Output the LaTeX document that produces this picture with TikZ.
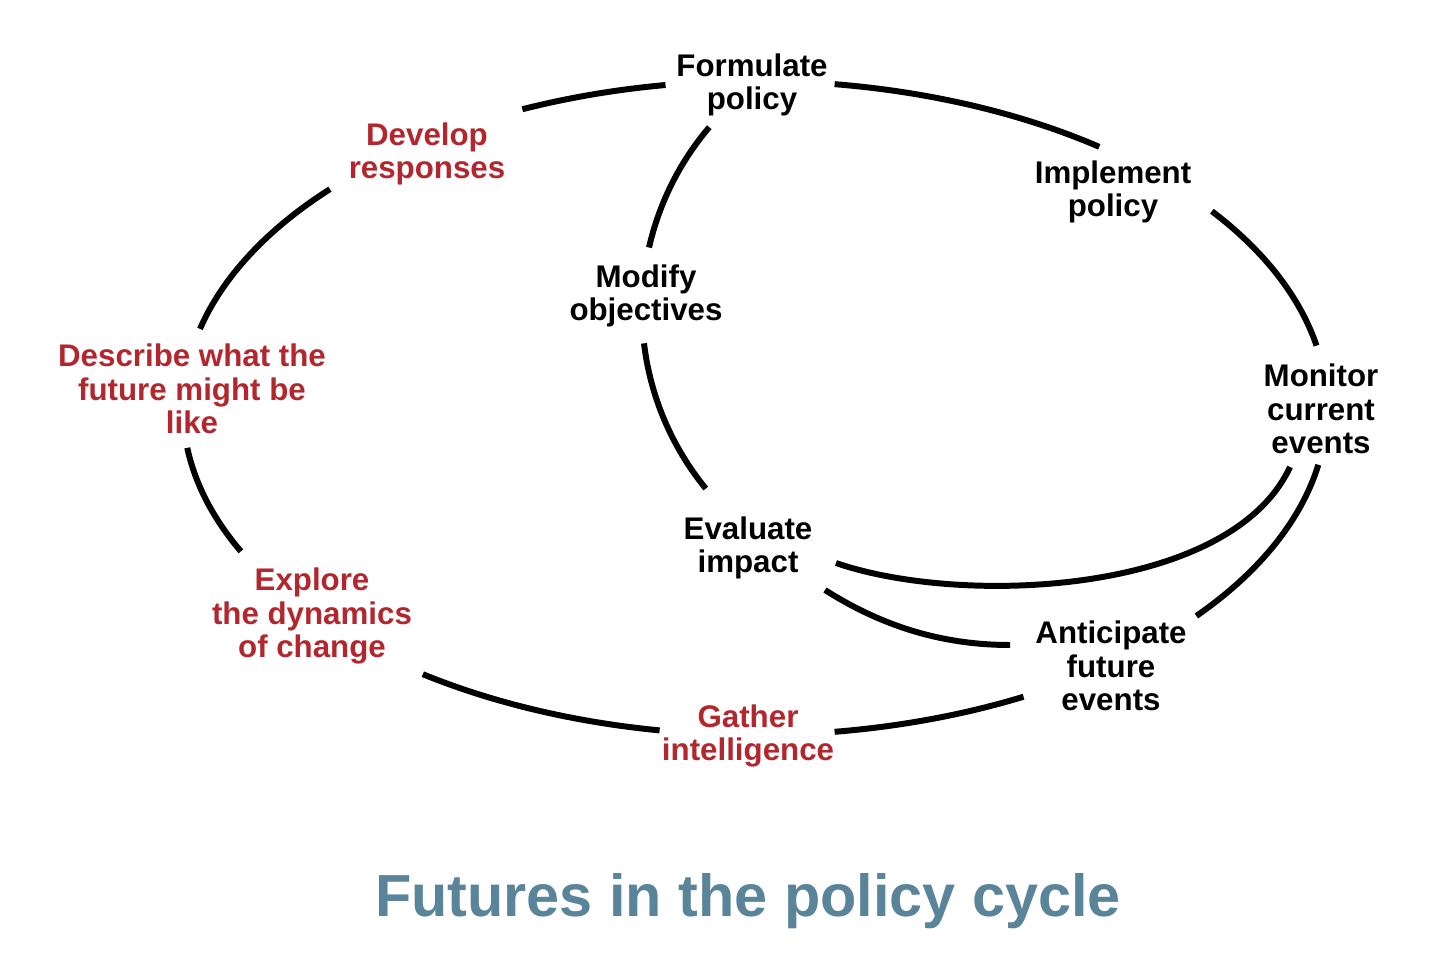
\documentclass[tikz,border=0pt]{standalone}
\usepackage{fontspec}
\setmainfont{Liberation Sans}
\usetikzlibrary{calc}
\definecolor{fred}{HTML}{B2272D}
\definecolor{ftitle}{HTML}{5A8499}
\tikzset{
  lbl/.style={align=center, font=\fontsize{8.9}{9.5}\selectfont\bfseries, inner sep=0pt},
  blk/.style={lbl, text=black},
  red/.style={lbl, text=fred},
  cyc/.style={line width=1.7pt, line cap=butt},
}
\begin{document}
\begin{tikzpicture}
\useasboundingbox (0,0) rectangle (14.44,9.76);
% nodes
\node[blk] (form) at (7.52,8.91) {Formulate\\policy};
\node[blk] (impl) at (11.13,7.84) {Implement\\policy};
\node[blk] (mon)  at (13.21,5.67) {Monitor\\current\\events};
\node[blk] (anti) at (11.11,3.10) {Anticipate\\future\\events};
\node[red] (gath) at (7.48,2.40) {Gather\\intelligence};
\node[red] (expl) at (3.12,3.60) {Explore\\the dynamics\\of change};
\node[red] (desc) at (1.92,5.87) {Describe what the\\future might be\\like};
\node[red] (dev)  at (4.27,8.22) {Develop\\responses};
\node[blk] (mod)  at (6.46,6.80) {Modify\\objectives};
\node[blk] (eval) at (7.48,4.28) {Evaluate\\impact};
\node[font=\fontsize{16.9}{18}\selectfont\bfseries, text=ftitle, inner sep=0pt] (title) at (7.48,0.75) {Futures in the policy cycle};
% outer cycle
\coordinate (C) at (7.55,5.68);
\foreach \a/\b in {99/114, 53/82, 11/37, -39.5/-10, -82/-62, -125.5/-99.6, 187/206, 138/166}{
  \draw[cyc] ($(C)+({5.72*cos(\a)},{3.27*sin(\a)})$) arc[start angle=\a, end angle=\b, x radius=5.72, y radius=3.27];
}
% inner arc through Modify objectives
\coordinate (I) at (9.24,6.66);
\draw[cyc] ($(I)+(139.6:2.82)$) arc[start angle=139.6, end angle=167.2, radius=2.82];
\draw[cyc] ($(I)+(186.8:2.82)$) arc[start angle=186.8, end angle=219.3, radius=2.82];
% evaluate links
\draw[cyc] (8.36,4.13) .. controls (9.60,3.70) and (12.30,3.80) .. (12.90,5.09);
\draw[cyc] (8.25,3.86) .. controls (8.80,3.51) and (9.40,3.31) .. (10.10,3.31);
\end{tikzpicture}
\end{document}
